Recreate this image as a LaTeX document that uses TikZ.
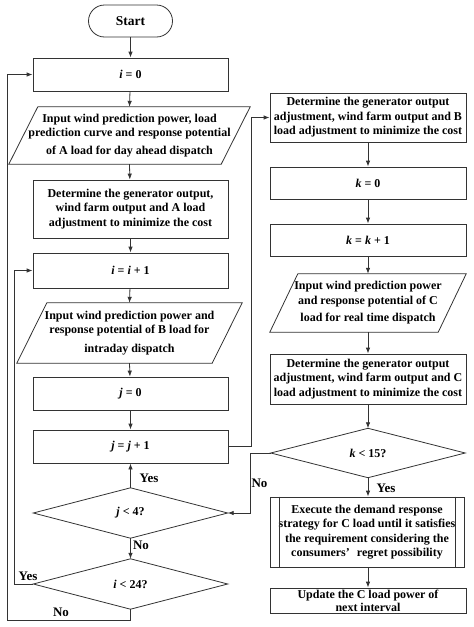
\documentclass[tikz,border=0pt]{standalone}
\usepackage{fontspec}
\setmainfont{Liberation Serif}
\usetikzlibrary{arrows.meta,calc}
\begin{document}
\begin{tikzpicture}[x=1pt,y=-1pt,
  line/.style={draw=black!80, line width=0.8pt},
  arr/.style={line, -{Latex[length=6pt,width=4.5pt]}},
  txt/.style={font=\bfseries\fontsize{12}{14.5}\selectfont, align=center},
  box/.style={txt, line, rectangle, inner sep=0pt, minimum width=#1},
  box/.default=195pt,
  shell/.style={txt, rectangle, inner sep=0pt},
  lbl/.style={font=\bfseries\fontsize{13}{15}\selectfont, inner sep=0pt}
]
\useasboundingbox (0,0) rectangle (474,627);

% ---------- left column ----------
\node[line, rectangle, rounded corners=16pt, minimum width=84pt, minimum height=32pt,
      inner sep=0pt, font=\bfseries\fontsize{13.5}{15}\selectfont] (start) at (130.5,21) {Start};
\node[box, minimum height=33pt] (i0) at (130.5,74.5) {\textit{i} = 0};
\node[shell, minimum width=241pt, minimum height=57pt] (p1) at (129.5,135.5)
  {Input wind prediction power, load\\prediction curve and response potential\\[3pt]of A load for day ahead dispatch};
\draw[line] ([xshift=29pt]p1.north west) -- (p1.north east) -- ([xshift=-29pt]p1.south east) -- (p1.south west) -- cycle;
\node[box, minimum height=58pt] (dA) at (130.5,209)
  {Determine the generator output,\\wind farm output and A load\\adjustment to minimize the cost};
\node[box, minimum height=35pt] (ii) at (130.5,270.5) {\textit{i} = \textit{i} + 1};
\node[shell, minimum width=225pt, minimum height=60pt] (p2) at (129.5,333)
  {Input wind prediction power and\\response potential of B load for\\[4pt]intraday dispatch};
\draw[line] ([xshift=30pt]p2.north west) -- (p2.north east) -- ([xshift=-30pt]p2.south east) -- (p2.south west) -- cycle;
\node[box, minimum height=33pt] (j0) at (130.5,393.5) {\textit{j} = 0};
\node[box, minimum height=33pt] (jj) at (130.5,446.5) {\textit{j} = \textit{j} + 1};
\node[shell, minimum width=194pt, minimum height=50pt] (j4) at (130.5,513) {\textit{j} {<} 4?};
\draw[line] (j4.north) -- (j4.east) -- (j4.south) -- (j4.west) -- cycle;
\node[shell, minimum width=194pt, minimum height=50pt] (i24) at (130.5,584) {\textit{i} {<} 24?};
\draw[line] (i24.north) -- (i24.east) -- (i24.south) -- (i24.west) -- cycle;

% ---------- right column ----------
\node[box=196pt, minimum height=49pt] (dB) at (368,117.5)
  {Determine the generator output\\adjustment, wind farm output and B\\load adjustment to minimize the cost};
\node[box=196pt, minimum height=32pt] (k0) at (368,183) {\textit{k} = 0};
\node[box=196pt, minimum height=32pt] (kk) at (368,240) {\textit{k} = \textit{k} + 1};
\node[shell, minimum width=196pt, minimum height=58pt] (pC) at (368,303)
  {Input wind prediction power\\and response potential of C\\[3pt]load for real time dispatch};
\draw[line] ([xshift=28pt]pC.north west) -- (pC.north east) -- ([xshift=-28pt]pC.south east) -- (pC.south west) -- cycle;
\node[box=196pt, minimum height=50pt] (dC) at (368,379)
  {Determine the generator output\\adjustment, wind farm output and C\\load adjustment to minimize the cost};
\node[shell, minimum width=194pt, minimum height=49pt] (k15) at (368,453) {\textit{k} {<} 15?};
\draw[line] (k15.north) -- (k15.east) -- (k15.south) -- (k15.west) -- cycle;
\node[box=194pt, minimum height=70pt] (ex) at (367,532)
  {Execute the demand response\\strategy for C load until it satisfies\\the requirement considering the\\consumers’\hspace{7pt}regret possibility};
\draw[line] ([xshift=10pt]ex.north west) -- ([xshift=10pt]ex.south west);
\draw[line] ([xshift=-9pt]ex.north east) -- ([xshift=-9pt]ex.south east);
\node[box=196pt, minimum height=25pt, font=\bfseries\fontsize{12}{13}\selectfont] (up) at (368,600.5)
  {Update the C load power of\\next interval};

% ---------- helper coordinates ----------
\coordinate (cB) at (251,0);
\coordinate (cY) at (14,0);
\coordinate (nb) at (7,620);
\coordinate (cK) at (250,0);

% ---------- connectors ----------
\draw[arr] (start) -- (i0);
\draw[arr] (i0) -- (p1.north);
\draw[arr] (p1.south) -- (dA);
\draw[arr] (dA) -- (ii);
\draw[arr] (ii) -- (p2.north);
\draw[arr] (p2.south) -- (j0);
\draw[arr] (j0) -- (jj);
\draw[arr] (j4.north) -- (jj.south);
\draw[arr] (j4.south) -- (i24.north);
\draw[arr] (i24.west) -- (i24.west -| cY) |- (ii.west);
\draw[arr] (i24.south) |- (nb) |- (i0.west);
\draw[arr] (jj.east) -- (jj.east -| cB) |- (dB.west);

\draw[arr] (dB) -- (k0);
\draw[arr] (k0) -- (kk);
\draw[arr] (kk) -- (pC.north);
\draw[arr] (pC.south) -- (dC);
\draw[arr] (dC) -- (k15.north);
\draw[arr] (k15.south) -- (ex.north -| k15.south);
\draw[arr] (ex.south -| up.north) -- (up.north);
\draw[arr] (k15.west) -- (k15.west -| cK) |- (j4.east);

% ---------- labels ----------
\node[lbl] (lyes1) at (149,478) {Yes};
\node[lbl] (lno1) at (141,545) {No};
\node[lbl] (lyes2) at (28,576) {Yes};
\node[lbl] (lno2) at (61,612) {No};
\node[lbl] (lno3) at (259.5,483) {No};
\node[lbl] (lyes3) at (386,488) {Yes};
\end{tikzpicture}
\end{document}
